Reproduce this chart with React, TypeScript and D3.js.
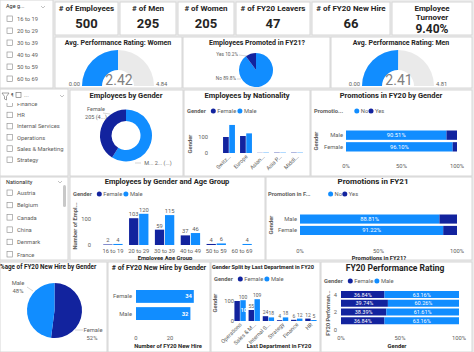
import * as d3 from 'd3'

const LIGHT = '#118DFF'
const DARK = '#12239E'
const GREY = '#605E5C'
const TITLE = '#252423'
const FONT = 'Roboto, "Open Sans", sans-serif'

// ---- data ----
const kpiLabels = ['# of Employees', '# of Men', '# of Women', '# of FY20 Leavers', '# of FY20 New Hire', 'Employee Turnover']
const kpiValues = ['500', '295', '205', '47', '66', '9.40%']

const ageGroups = ['16 to 19', '20 to 29', '30 to 39', '40 to 49', '50 to 59', '60 to 69']
const ageFemale = [2, 103, 59, 37, 4, 0]
const ageMale = [4, 120, 115, 46, 6, 4]

const departmentItems = ['Finance', 'HR', 'Internal Services', 'Operations', 'Sales & Marketing', 'Strategy']
const nationalityItems = ['Austria', 'Belgium', 'Canada', 'China', 'Denmark', 'France']

const gaugeWomen = { value: 2.42, max: 4.84 }
const gaugeMen = { value: 2.41, max: 4.81 }

const promotedLabels = ['No', 'Yes']
const promotedValues = [89.8, 10.2]

const genderLabels = ['Male', 'Female']
const genderCounts = [295, 205]

const natCats = ['Switz...', 'Europe', 'Asian...', 'Asia P...', 'Middl...']
const natFemale = [97, 103, 1, 2, 2]
const natMale = [170, 119, 2, 2, 2]

const promoGenders = ['Male', 'Female']
const promoFY20No = [90.51, 96.1]
const promoFY21No = [88.81, 91.22]

const newHireLabels = ['Female', 'Male']
const newHirePct = [52, 48]
const newHireCount = [34, 32]

const deptCats = ['Operations', 'Sales & M...', 'Internal S...', 'Strategy', 'Finance', 'HR']
const deptFemale = [100, 55, 24, 4, 6, 12]
const deptMale = [104, 109, 18, 18, 12, 5]

const ratingLevels = [4, 3, 2, 1]
const ratingFemalePct = [36.84, 39.74, 38.39, 36.84]

// ---- pieces ----
function Panel({ id, x, y, w, h, children }: any) {
  return (
    <g>
      <rect x={x} y={y} width={w} height={h} fill="#fff" stroke="#d6d6d6" strokeWidth={1} />
      <clipPath id={id}>
        <rect x={x} y={y} width={w} height={h} />
      </clipPath>
      <g clipPath={`url(#${id})`}>{children}</g>
    </g>
  )
}

function Title({ x, y, text, size = 7.5 }: any) {
  return (
    <text x={x} y={y} textAnchor="middle" fontSize={size} fontWeight="bold" fill={TITLE}>
      {text}
    </text>
  )
}

function Legend({ x, y, name, items }: any) {
  let cx = x + name.length * 3.3 + 4
  return (
    <g fontSize={5.8}>
      <text x={x} y={y} fontWeight="bold" fill={GREY}>{name}</text>
      {items.map((it: any) => {
        const g = (
          <g key={it.label}>
            <circle cx={cx + 2.5} cy={y - 2} r={2.5} fill={it.color} />
            <text x={cx + 6.5} y={y} fill={GREY}>{it.label}</text>
          </g>
        )
        cx += 8 + it.label.length * 3.1
        return g
      })}
    </g>
  )
}

function Slicer({ x, items, rowY, step, header }: any) {
  return (
    <g fontSize={5.8} fill={GREY}>
      {items.map((it: string, i: number) => (
        <g key={it}>
          <rect x={x + 7} y={rowY + i * step - 5} width={5.5} height={5.5} fill="#fff" stroke="#888" strokeWidth={0.6} />
          <text x={x + 17} y={rowY + i * step}>{it}</text>
        </g>
      ))}
      {header}
    </g>
  )
}

function Gauge({ cx, cy, ro, ri, value, max }: any) {
  const arc = d3.arc<any>().innerRadius(ri).outerRadius(ro)
  const a = d3.scaleLinear().domain([0, max]).range([-Math.PI / 2, Math.PI / 2])
  return (
    <g>
      <path transform={`translate(${cx},${cy})`} d={arc({ startAngle: a(0), endAngle: a(max) }) as string} fill="#EAEAEA" />
      <path transform={`translate(${cx},${cy})`} d={arc({ startAngle: a(0), endAngle: a(value) }) as string} fill={LIGHT} />
      <text x={cx + 1} y={cy - 1} textAnchor="middle" fontSize={14} fill="#808080">{value.toFixed(2)}</text>
      <text x={cx - ro - 2} y={cy} textAnchor="end" fontSize={5.8} fill={GREY}>{(0).toFixed(2)}</text>
      <text x={cx + ro + 2} y={cy} textAnchor="start" fontSize={5.8} fill={GREY}>{max.toFixed(2)}</text>
    </g>
  )
}

function Grouped({ cats, f, m, range, pi, po, base, unit100, ticks, tickX, rotate, labelY, barLabels, labelSize = 5.8, minLabelX = 0, insideM = [] }: any) {
  const x = d3.scaleBand().domain(cats).range(range).paddingInner(pi).paddingOuter(po)
  const sub = d3.scaleBand().domain(['F', 'M']).range([0, x.bandwidth()]).paddingInner(0.08)
  const y = d3.scaleLinear().domain([0, 100]).range([base, base - unit100])
  return (
    <g>
      {ticks.map((t: number) => (
        <text key={t} x={tickX} y={y(t) + 2} textAnchor="end" fontSize={5.8} fill={GREY}>{t}</text>
      ))}
      {cats.map((c: string, i: number) => {
        const fx = (x(c) as number) + (sub('F') as number)
        const mx = (x(c) as number) + (sub('M') as number)
        const bw = sub.bandwidth()
        const inside = insideM.includes(i)
        return (
          <g key={c}>
            <rect x={fx} y={y(f[i])} width={bw} height={base - y(f[i])} fill={DARK} />
            <rect x={mx} y={y(m[i])} width={bw} height={base - y(m[i])} fill={LIGHT} />
            {barLabels && f[i] > 0 && (
              <text x={Math.max(fx + bw / 2, minLabelX)} y={y(f[i]) - 2} textAnchor="middle" fontSize={labelSize} fill={GREY}>{f[i]}</text>
            )}
            {barLabels && (
              <text x={inside ? mx + 0.5 : mx + bw / 2} y={inside ? y(m[i]) + 12 : y(m[i]) - 2} textAnchor={inside ? 'start' : 'middle'} fontSize={labelSize} fontWeight={inside ? 'bold' : 'normal'} fill={inside ? '#fff' : GREY}>{m[i]}</text>
            )}
            {rotate ? (
              <text transform={`translate(${(x(c) as number) + x.bandwidth() / 2 + 2},${labelY}) rotate(-45)`} textAnchor="end" fontSize={5.5} fill={GREY}>{c}</text>
            ) : (
              <text x={(x(c) as number) + x.bandwidth() / 2} y={labelY} textAnchor="middle" fontSize={5.8} fill={GREY}>{c}</text>
            )}
          </g>
        )
      })}
    </g>
  )
}

function Stacked100({ cats, no, xr, yr, pad, labelX, tickY }: any) {
  const x = d3.scaleLinear().domain([0, 100]).range(xr)
  const y = d3.scaleBand().domain(cats).range(yr).paddingInner(pad)
  return (
    <g>
      {cats.map((c: string, i: number) => (
        <g key={c}>
          <text x={labelX} y={(y(c) as number) + y.bandwidth() / 2 + 2} textAnchor="end" fontSize={5.8} fill={GREY}>{c}</text>
          <rect x={x(0)} y={y(c)} width={x(no[i]) - x(0)} height={y.bandwidth()} fill={LIGHT} />
          <rect x={x(no[i])} y={y(c)} width={x(100) - x(no[i])} height={y.bandwidth()} fill={DARK} />
          <text x={(x(0) + x(no[i])) / 2} y={(y(c) as number) + y.bandwidth() / 2 + 2} textAnchor="middle" fontSize={5.8} fill="#fff">{no[i].toFixed(2)}%</text>
        </g>
      ))}
      {[0, 50, 100].map((t) => (
        <text key={t} x={x(t)} y={tickY} textAnchor="middle" fontSize={5.8} fill={GREY}>{t}%</text>
      ))}
    </g>
  )
}

function Chevron({ x, y }: any) {
  return <path d={`M${x - 2},${y - 1} L${x},${y + 1} L${x + 2},${y - 1}`} fill="none" stroke="#999" strokeWidth={0.6} />
}

export default function App() {
  const kpiBoxes = [[55, 2, 63, 33], [120, 2, 56, 33], [178, 2, 56, 33], [236, 2, 74, 33], [312, 2, 78, 33], [392, 2, 80, 33]]

  const pie = d3.pie<number>().sort(null)
  const donutArcs = pie(genderCounts)
  const donut = d3.arc<any>().innerRadius(14.5).outerRadius(26)
  const promoArcs = pie(promotedValues)
  const promoArc = d3.arc<any>().innerRadius(0).outerRadius(17)
  const hireArcs = pie(newHirePct)
  const hireArc = d3.arc<any>().innerRadius(0).outerRadius(27.5)

  const hireX = d3.scaleLinear().domain([0, 20]).range([136, 170])
  const hireY = d3.scaleBand().domain(newHireLabels).range([290, 320]).paddingInner(0.25)

  const rateX = d3.scaleLinear().domain([0, 100]).range([341, 459])
  const rateY = d3.scaleLinear().domain([0, 4]).range([329.5, 294.5])

  return (
    <div style={{ position: 'fixed', left: 0, top: 0 }}>
      <svg width={474} height={352} fontFamily={FONT} style={{ display: 'block' }}>
        <rect width={474} height={352} fill="#EDEDED" />

        {/* age slicer */}
        <Panel id="p-age" x={0} y={0} w={53} h={88}>
          <Slicer
            x={0}
            items={ageGroups}
            rowY={21}
            step={12}
            header={
              <g>
                <text x={6} y={8} fontSize={5.5} fill={TITLE}>Age g...</text>
                <Chevron x={43} y={7} />
              </g>
            }
          />
        </Panel>

        {/* KPI cards */}
        {kpiLabels.map((k, i) => {
          const [x, y, w, h] = kpiBoxes[i]
          const two = k === 'Employee Turnover'
          return (
            <Panel key={k} id={`kpi${i}`} x={x} y={y} w={w} h={h}>
              {two ? (
                <g>
                  <text x={x + w / 2} y={y + 9} textAnchor="middle" fontSize={8} fontWeight="bold" fill={TITLE}>Employee</text>
                  <text x={x + w / 2} y={y + 18} textAnchor="middle" fontSize={8} fontWeight="bold" fill={TITLE}>Turnover</text>
                  <text x={x + w / 2} y={y + 31} textAnchor="middle" fontSize={12} fontWeight="bold" fill={TITLE}>{kpiValues[i]}</text>
                </g>
              ) : (
                <g>
                  <text x={x + w / 2} y={y + 9} textAnchor="middle" fontSize={8} fontWeight="bold" fill={TITLE}>{k}</text>
                  <text x={x + w / 2} y={y + 26} textAnchor="middle" fontSize={13} fontWeight="bold" fill={TITLE}>{kpiValues[i]}</text>
                </g>
              )}
            </Panel>
          )
        })}

        {/* gauges + promoted pie */}
        <Panel id="g-w" x={55} y={37} w={127} h={51}>
          <Title x={118} y={45} text="Avg. Performance Rating: Women" size={7} />
          <Gauge cx={118} cy={86} ro={36} ri={16} {...gaugeWomen} />
        </Panel>
        <Panel id="g-p" x={183} y={37} w={147} h={51}>
          <Title x={257} y={45} text="Employees Promoted in FY21?" size={7} />
          <g transform="translate(256,70)">
            {promoArcs.map((a, i) => (
              <path key={i} d={promoArc(a) as string} fill={i === 0 ? LIGHT : DARK} />
            ))}
          </g>
          <g fontSize={4.8} fill={GREY}>
            <text x={238} y={56} textAnchor="end">{promotedLabels[1]} {promotedValues[1]}%</text>
            <text x={236} y={80} textAnchor="end">{promotedLabels[0]} {promotedValues[0]}%</text>
          </g>
          <path d="M239,55 L247,56 M237,79 L241,79" stroke="#aaa" strokeWidth={0.5} />
        </Panel>
        <Panel id="g-m" x={331} y={37} w={141} h={51}>
          <Title x={401} y={45} text="Avg. Performance Rating: Men" size={7} />
          <Gauge cx={398} cy={86} ro={36} ri={16} {...gaugeMen} />
        </Panel>

        {/* department slicer */}
        <Panel id="p-dept" x={0} y={89} w={68} h={87}>
          <Slicer x={0} items={departmentItems} rowY={106} step={11.2} header={null} />
          <rect x={1} y={90} width={66} height={13} fill="#fff" />
          <path d="M2,93 L9,93 L6.5,96.5 L6.5,100 L4.5,99 L4.5,96.5 Z" fill="none" stroke="#666" strokeWidth={0.6} />
          <text x={11} y={97} fontSize={5} fill="#666">¶</text>
          <rect x={16} y={92.5} width={5} height={5} fill="none" stroke="#666" strokeWidth={0.6} />
          <text x={24} y={97} fontSize={6} fill="#666">...</text>
          <Chevron x={62} y={96} />
        </Panel>

        {/* employees by gender donut */}
        <Panel id="p-don" x={70} y={90} w={113} h={86}>
          <Title x={126} y={98} text="Employees by Gender" />
          <g transform="translate(126,135.5)">
            {donutArcs.map((a, i) => (
              <path key={i} d={donut(a) as string} fill={i === 0 ? LIGHT : DARK} />
            ))}
          </g>
          <g fontSize={5.5} fill={GREY}>
            <text x={96} y={111} textAnchor="middle">{genderLabels[1]}</text>
            <text x={96} y={119} textAnchor="middle">{genderCounts[1]} (4...)</text>
            <text x={158} y={165} textAnchor="middle">M... 2... (...)</text>
          </g>
          <path d="M103,113 L110,114 M135,163 L141,163" stroke="#aaa" strokeWidth={0.5} />
        </Panel>

        {/* nationality */}
        <Panel id="p-nat" x={184} y={90} w={126} h={86}>
          <Title x={247} y={98} text="Employees by Nationality" />
          <Legend x={187} y={113} name="Gender" items={[{ label: 'Female', color: DARK }, { label: 'Male', color: LIGHT }]} />
          <text transform="translate(192,144) rotate(-90)" textAnchor="middle" fontSize={5.8} fontWeight="bold" fill={GREY}>Gender</text>
          <Grouped cats={natCats} f={natFemale} m={natMale} range={[220.5, 305.5]} pi={0.3} po={0.15} base={153} unit100={16.5} ticks={[0, 100]} tickX={208} rotate labelY={157} />
        </Panel>

        {/* promotions FY20 */}
        <Panel id="p-pr20" x={311} y={90} w={161} h={86}>
          <Title x={391} y={98} text="Promotions in FY20 by Gender" />
          <Legend x={314} y={113} name="Promotio..." items={[{ label: 'No', color: LIGHT }, { label: 'Yes', color: DARK }]} />
          <text transform="translate(318,141) rotate(-90)" textAnchor="middle" fontSize={5.8} fontWeight="bold" fill={GREY}>Gender</text>
          <Stacked100 cats={promoGenders} no={promoFY20No} xr={[346, 457]} yr={[130.5, 151.5]} pad={0.2} labelX={343} tickY={168} />
        </Panel>

        {/* nationality slicer */}
        <Panel id="p-nats" x={0} y={177} w={68} h={83}>
          <Slicer
            x={0}
            items={nationalityItems}
            rowY={195}
            step={12.3}
            header={<text x={6} y={184} fontSize={5.5} fill={TITLE}>Nationality</text>}
          />
          <Chevron x={60} y={182} />
          <rect x={63} y={185} width={3} height={22} rx={1.5} fill="#c8c8c8" />
        </Panel>

        {/* age group chart */}
        <Panel id="p-agec" x={70} y={177} w={195} h={83}>
          <Title x={167} y={184} text="Employees by Gender and Age Group" />
          <Legend x={73} y={196} name="Gender" items={[{ label: 'Female', color: DARK }, { label: 'Male', color: LIGHT }]} />
          <text transform="translate(77,226) rotate(-90)" textAnchor="middle" fontSize={5.8} fontWeight="bold" fill={GREY}>Number of Empl...</text>
          <Grouped cats={ageGroups} f={ageFemale} m={ageMale} range={[100, 255]} pi={0.25} po={0.125} base={245} unit100={26} ticks={[0, 100]} tickX={91} labelY={253} barLabels />
          <text x={165} y={260} textAnchor="middle" fontSize={5.8} fontWeight="bold" fill={TITLE}>Employee Age Group</text>
        </Panel>

        {/* promotions FY21 */}
        <Panel id="p-pr21" x={266} y={177} w={206} h={83}>
          <Title x={373} y={184} text="Promotions in FY21" size={8} />
          <Legend x={268} y={196} name="Promotion in F..." items={[{ label: 'No', color: LIGHT }, { label: 'Yes', color: DARK }]} />
          <text transform="translate(273,225) rotate(-90)" textAnchor="middle" fontSize={5.8} fontWeight="bold" fill={GREY}>Gender</text>
          <Stacked100 cats={promoGenders} no={promoFY21No} xr={[300, 457]} yr={[214.5, 235]} pad={0.2} labelX={297} tickY={253} />
          <text x={379} y={260} textAnchor="middle" fontSize={5.8} fontWeight="bold" fill={TITLE}>Promotions in FY21?</text>
        </Panel>

        {/* new hire pie */}
        <Panel id="p-hp" x={0} y={262} w={107} h={90}>
          <text x={0} y={269} fontSize={6.3} fontWeight="bold" fill={TITLE}>%age of FY20 New Hire by Gender</text>
          <g transform="translate(54.5,310.5)">
            {hireArcs.map((a, i) => (
              <path key={i} d={hireArc(a) as string} fill={i === 0 ? DARK : LIGHT} />
            ))}
          </g>
          <g fontSize={5.8} fill={GREY}>
            <text x={18} y={285} textAnchor="middle">{newHireLabels[1]}</text>
            <text x={18} y={293} textAnchor="middle">{newHirePct[1]}%</text>
            <text x={93} y={332} textAnchor="middle">{newHireLabels[0]}</text>
            <text x={92} y={340} textAnchor="middle">{newHirePct[0]}%</text>
          </g>
          <path d="M27,287 L33,291 M75,330 L83,330" stroke="#aaa" strokeWidth={0.5} />
        </Panel>

        {/* new hire bars */}
        <Panel id="p-hb" x={108} y={262} w={102} h={90}>
          <Title x={159} y={270} text="# of FY20 New Hire by Gender" size={7} />
          {newHireLabels.map((g, i) => (
            <g key={g}>
              <text x={132} y={(hireY(g) as number) + hireY.bandwidth() / 2 + 2} textAnchor="end" fontSize={5.8} fill={GREY}>{g}</text>
              <rect x={hireX(0)} y={hireY(g)} width={hireX(newHireCount[i]) - hireX(0)} height={hireY.bandwidth()} fill={LIGHT} />
              <text x={hireX(newHireCount[i]) - 2} y={(hireY(g) as number) + hireY.bandwidth() / 2 + 2} textAnchor="end" fontSize={5.8} fontWeight="bold" fill="#fff">{newHireCount[i]}</text>
            </g>
          ))}
          {[0, 20].map((t) => (
            <text key={t} x={hireX(t)} y={340} textAnchor="middle" fontSize={5.8} fill={GREY}>{t}</text>
          ))}
          <text x={168} y={348} textAnchor="middle" fontSize={5.8} fontWeight="bold" fill={TITLE}>Number of FY20 New Hire</text>
        </Panel>

        {/* gender split by department */}
        <Panel id="p-dep" x={211} y={262} w={109} h={90}>
          <text x={212} y={269} fontSize={5.6} fontWeight="bold" fill={TITLE}>Gender Split by Last Department in FY20</text>
          <Legend x={214} y={281} name="Gender" items={[{ label: 'Female', color: DARK }, { label: 'Male', color: LIGHT }]} />
          <text transform="translate(217,303) rotate(-90)" textAnchor="middle" fontSize={5.8} fontWeight="bold" fill={GREY}>Gender</text>
          <Grouped cats={deptCats} f={deptFemale} m={deptMale} range={[233, 318]} pi={0.2} po={0.1} base={321} unit100={20} ticks={[0, 100]} tickX={234} rotate labelY={325} barLabels labelSize={5} minLabelX={243} insideM={[0]} />
          <text x={279} y={348} textAnchor="middle" fontSize={5.8} fontWeight="bold" fill={TITLE}>Last Department in FY20</text>
        </Panel>

        {/* FY20 performance rating */}
        <Panel id="p-rate" x={321} y={262} w={151} h={90}>
          <Title x={395} y={271} text="FY20 Performance Rating" size={8.5} />
          <Legend x={324} y={283} name="Gender" items={[{ label: 'Female', color: DARK }, { label: 'Male', color: LIGHT }]} />
          <text transform="translate(330,313) rotate(-90)" textAnchor="middle" fontSize={5.5} fontWeight="bold" fill={GREY}>FY20 Performan...</text>
          {[0, 2, 4].map((t) => (
            <text key={t} x={337} y={rateY(t) + 2} textAnchor="end" fontSize={5.8} fill={GREY}>{t}</text>
          ))}
          {ratingLevels.map((r, i) => {
            const yc = rateY(r)
            const fp = ratingFemalePct[i]
            return (
              <g key={r}>
                <rect x={rateX(0)} y={yc - 3.5} width={rateX(fp) - rateX(0)} height={7} fill={DARK} />
                <rect x={rateX(fp)} y={yc - 3.5} width={rateX(100) - rateX(fp)} height={7} fill={LIGHT} />
                <text x={(rateX(0) + rateX(fp)) / 2} y={yc + 2} textAnchor="middle" fontSize={5.5} fill="#fff">{fp.toFixed(2)}%</text>
                <text x={(rateX(fp) + rateX(100)) / 2} y={yc + 2} textAnchor="middle" fontSize={5.5} fill="#fff">{(100 - fp).toFixed(2)}%</text>
              </g>
            )
          })}
          {[0, 50, 100].map((t) => (
            <text key={t} x={rateX(t)} y={340} textAnchor="middle" fontSize={5.8} fill={GREY}>{t}%</text>
          ))}
          <text x={397} y={348} textAnchor="middle" fontSize={5.8} fontWeight="bold" fill={TITLE}>Gender</text>
        </Panel>
      </svg>
    </div>
  )
}
